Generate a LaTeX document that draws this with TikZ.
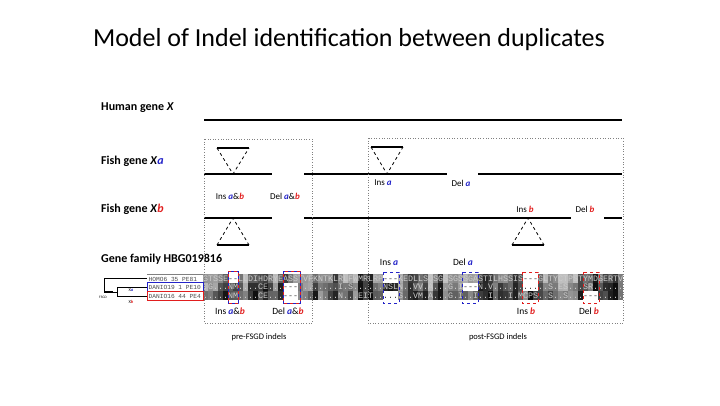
\documentclass[tikz,border=0pt]{standalone}
\usepackage{fontspec}
\setmainfont{Carlito}
\setmonofont{Liberation Mono}
\usepackage{xcolor}
\usepackage{tikz}

\definecolor{cpblue}{RGB}{35,35,200}
\definecolor{cpred}{RGB}{225,30,30}
\newcommand{\cpa}{\textcolor{cpblue}{\textbf{\textit{a}}}}
\newcommand{\cpb}{\textcolor{cpred}{\textbf{\textit{b}}}}
\newcommand{\gapseq}[1]{{\color{black!75}#1}}
\newcommand{\seqfont}{\ttfamily\fontsize{8.33}{9}\selectfont}

\tikzset{
  gene/.style={line width=2pt},
  bar/.style={line width=2pt},
  loop/.style={dashed, line width=0.8pt},
  panel/.style={gray, dotted, line width=0.6pt},
  rowlabel/.style={anchor=west, inner sep=0, font=\fontsize{12}{14}\selectfont\bfseries},
  evlabel/.style={inner sep=0, font=\fontsize{9}{10}\selectfont},
  alnlabel/.style={inner sep=0, font=\fontsize{9.5}{11}\selectfont},
  seq/.style={anchor=base west, inner sep=0, font=\seqfont, text=white!80!black},
  seqname/.style={anchor=base west, inner sep=0, font=\ttfamily\fontsize{6.2}{7}\selectfont, text=black!70}
}

\begin{document}
\begin{tikzpicture}[x=1pt,y=-1pt]
\useasboundingbox (0,0) rectangle (720,405);

\node[font=\fontsize{26}{30}\selectfont] (title) at (349,40) {Model of Indel identification between duplicates};

% row labels
\node[rowlabel] (human) at (101,108) {Human gene \textit{X}};
\node[rowlabel] (fisha) at (101,161) {Fish gene \textit{X}\cpa};
\node[rowlabel] (fishb) at (101,209) {Fish gene \textit{X}\cpb};
\node[rowlabel] (family) at (101,259) {Gene family HBG019816};

% genes
\draw[gene] (204,120) -- (622,120);
\draw[gene] (204,174) -- (272,174) (304,174) -- (447,174) (478,174) -- (622,174);
\draw[gene] (204,218) -- (272,218) (304,218) -- (571,218) (604,218) -- (622,218);

% insertions
\draw[bar] (217,148) -- (249,148);
\draw[loop] (217,148) -- (233,174) -- (249,148);
\draw[bar] (217,245) -- (249,245);
\draw[loop] (217,245) -- (233,218) -- (249,245);
\draw[bar] (371,147) -- (403,147);
\draw[loop] (371,147) -- (387,174) -- (403,147);
\draw[bar] (512,245) -- (544,245);
\draw[loop] (512,245) -- (528,218) -- (544,245);

\node[evlabel] (insab) at (230,196) {Ins \cpa\&\cpb};
\node[evlabel] (delab) at (285,196) {Del \cpa\&\cpb};
\node[evlabel] (insa) at (383,183) {Ins \cpa};
\node[evlabel] (dela) at (461,183) {Del \cpa};
\node[evlabel] (insb) at (525,209) {Ins \cpb};
\node[evlabel] (delb) at (585,209) {Del \cpb};

% tree
\draw[line width=0.8pt] (147,278.5) -- (104,278.5) -- (104,292) -- (117,292);
\draw[line width=2.5pt] (104,292) -- (113,292);
\draw[line width=0.8pt] (147,287) -- (117,287) -- (117,296) -- (147,296);
\node[inner sep=0, font=\fontsize{3.5}{4}\selectfont] (fsgd) at (103,297.5) {FSGD};
\node[inner sep=0, font=\fontsize{4.5}{5}\selectfont] (xa) at (131,290) {X\cpa};
\node[inner sep=0, font=\fontsize{4.5}{5}\selectfont] (xb) at (131,302) {X\cpb};

% alignment
\pgfmathsetseed{12}
\foreach \c in {0,...,83}{
  \pgfmathsetmacro\colg{random(28,82)}
  \foreach \r in {0,1,2}{
    \pgfmathtruncatemacro\cellg{min(95,max(25,\colg+random(0,24)-12+8*\r))}
    \fill[black!\cellg] ({203+5*\c},{274+26/3*\r}) rectangle ++(5.2,{26/3+0.2});
  }
}
\foreach \c/\r/\n in {5/0/2,16/1/3,16/2/3,36/0/3,36/2/3,52/1/3,64/0/3,64/1/3,76/2/3}
  \fill[white] ({203+5*\c},{274+26/3*\r}) rectangle ++({5*\n},{26/3});

\node[seq] (seqh) at (203,281) {STSSE\gapseq{--}LLDIHDRYEASSTVFKNTKLRLFWMRLRP\gapseq{---}KEDLLSQSGSSGSSGASTILHSSIS\gapseq{---}GLTYCTPSTYMDSERTV};
\node[seq] (seqa) at (203,289.67) {.G...NM....CE...\gapseq{---}........I.S......NSLN..VV.A...G.I\gapseq{---}N.V......\gapseq{...}..S.ES...SR......};
\node[seq] (seqb) at (203,298.33) {.....NM....CE...\gapseq{---}........N...EIT..\gapseq{...}S..VM.A...G.I..I..I...I.MCPS..S..S...\gapseq{---}.....};

\draw[gray, line width=0.5pt] (147,274) -- (203,274);
\draw[cpblue, line width=0.8pt] (147,282.7) rectangle (203,291.3);
\draw[cpred, line width=0.8pt] (147,291.3) rectangle (203,300);
\node[seqname] (homo) at (148.5,281) {HOMO6 35 PE81};
\node[seqname] (danioa) at (148.5,289.6) {DANIO19 1 PE10};
\node[seqname] (daniob) at (148.5,298.2) {DANIO16 44 PE4};

% indel boxes
\draw[cpblue, dash pattern=on 3pt off 3pt, line width=1pt] (228,271) rectangle (238,303);
\draw[cpred, dash pattern=on 3pt off 3pt, dash phase=3pt, line width=1pt] (228,271) rectangle (238,303);
\draw[cpblue, dash pattern=on 3pt off 3pt, line width=1pt] (283,271) rectangle (300,303);
\draw[cpred, dash pattern=on 3pt off 3pt, dash phase=3pt, line width=1pt] (283,271) rectangle (300,303);
\draw[cpblue, dash pattern=on 3pt off 3pt, line width=1pt] (383,272) rectangle (399,303);
\draw[cpblue, dash pattern=on 3pt off 3pt, line width=1pt] (462,272) rectangle (478,303);
\draw[cpred, dash pattern=on 3pt off 3pt, line width=1pt] (522,272) rectangle (538,303);
\draw[cpred, dash pattern=on 3pt off 3pt, line width=1pt] (583,272) rectangle (599,303);

\node[alnlabel] (ainsa) at (389,262) {Ins \cpa};
\node[alnlabel] (adela) at (463,262) {Del \cpa};
\node[alnlabel] (ainsab) at (230,311) {Ins \cpa\&\cpb};
\node[alnlabel] (adelab) at (288,311) {Del \cpa\&\cpb};
\node[alnlabel] (ainsb) at (526,311) {Ins \cpb};
\node[alnlabel] (adelb) at (589,311) {Del \cpb};

% panels
\draw[panel] (204,139) rectangle (312,323);
\draw[panel] (368,138) rectangle (623,323);
\node[evlabel, font=\fontsize{8.5}{10}\selectfont] (pre) at (259,337) {pre-FSGD indels};
\node[evlabel, font=\fontsize{8.5}{10}\selectfont] (post) at (498,337) {post-FSGD indels};
\end{tikzpicture}
\end{document}
